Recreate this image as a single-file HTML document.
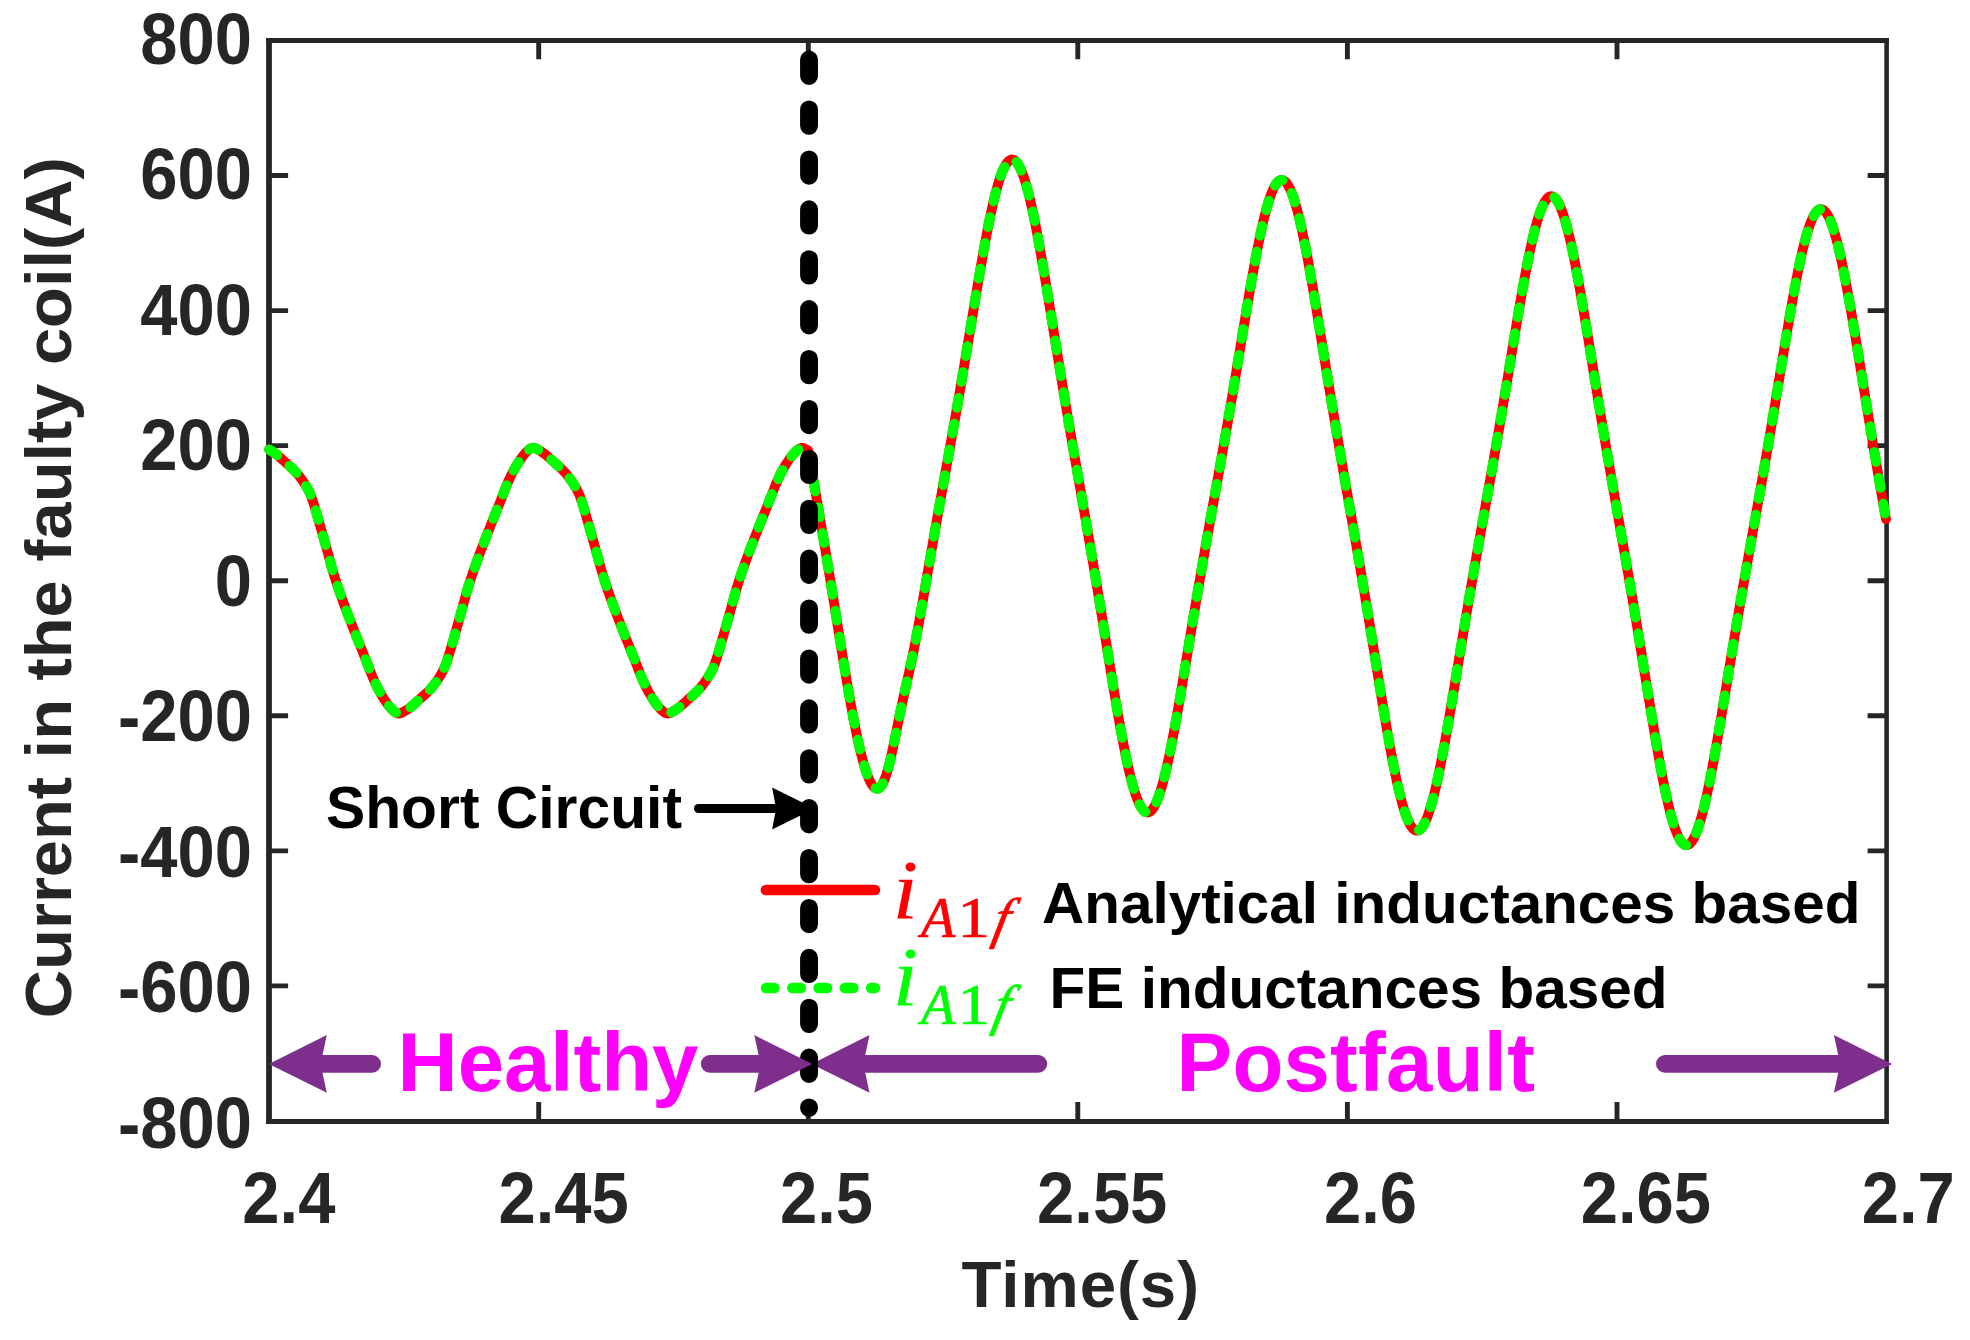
<!DOCTYPE html>
<html><head><meta charset="utf-8"><title>Current in the faulty coil</title>
<style>
html,body{margin:0;padding:0;background:#fff;}
svg{display:block;}
text{font-family:"Liberation Sans", Arial, sans-serif;font-weight:bold;}
.tk{font-size:72px;fill:#262626;}
.lb{font-size:65.5px;fill:#262626;}
.math{font-family:"Liberation Serif", "DejaVu Serif", serif;font-style:italic;font-weight:normal;stroke-width:0.7px;}
</style></head><body>
<svg width="1970" height="1340" viewBox="0 0 1970 1340">
<rect x="0" y="0" width="1970" height="1340" fill="#fff"/>
<path d="M269,37.9 V1123.9" stroke="#262626" stroke-width="5.8" fill="none"/><path d="M1886.6,37.9 V1123.9" stroke="#262626" stroke-width="4.6" fill="none"/><path d="M266.2,40.4 H1888.9" stroke="#262626" stroke-width="5" fill="none"/><path d="M266.2,1121.45 H1888.9" stroke="#262626" stroke-width="4.9" fill="none"/>
<path d="M538.7,1121.0 v-18.9 M538.7,40.4 v18.9 M808.3,1121.0 v-18.9 M808.3,40.4 v18.9 M1077.8,1121.0 v-18.9 M1077.8,40.4 v18.9 M1347.4,1121.0 v-18.9 M1347.4,40.4 v18.9 M1617.0,1121.0 v-18.9 M1617.0,40.4 v18.9 M269.2,175.5 h18.9 M1886.5,175.5 h-18.9 M269.2,310.6 h18.9 M1886.5,310.6 h-18.9 M269.2,445.6 h18.9 M1886.5,445.6 h-18.9 M269.2,580.7 h18.9 M1886.5,580.7 h-18.9 M269.2,715.8 h18.9 M1886.5,715.8 h-18.9 M269.2,850.9 h18.9 M1886.5,850.9 h-18.9 M269.2,985.9 h18.9 M1886.5,985.9 h-18.9" fill="none" stroke="#262626" stroke-width="4.9" stroke-linecap="butt"/>
<polyline id="red" points="269.2,449.6 270.2,450.2 271.2,450.8 272.2,451.4 273.2,452.1 274.2,452.8 275.2,453.5 276.2,454.2 277.2,455.0 278.2,455.8 279.2,456.7 280.2,457.6 281.2,458.5 282.2,459.4 283.2,460.3 284.2,461.2 285.2,462.1 286.2,463.0 287.2,463.9 288.2,464.8 289.2,465.7 290.2,466.6 291.2,467.5 292.2,468.5 293.2,469.4 294.2,470.4 295.2,471.5 296.2,472.5 297.2,473.7 298.2,474.9 299.2,476.1 300.2,477.4 301.2,478.8 302.2,480.2 303.2,481.6 304.2,483.1 305.2,484.7 306.2,486.3 307.2,488.0 308.2,489.8 309.2,491.8 310.2,494.0 311.2,496.5 312.2,499.2 313.2,502.2 314.2,505.3 315.2,508.6 316.2,512.1 317.2,515.5 318.2,519.0 319.2,522.5 320.2,526.0 321.2,529.5 322.2,532.9 323.2,536.4 324.2,539.9 325.2,543.4 326.2,547.0 327.2,550.6 328.2,554.3 329.2,558.0 330.2,561.7 331.2,565.3 332.2,568.8 333.2,572.3 334.2,575.6 335.2,578.7 336.2,581.8 337.2,584.9 338.2,587.8 339.2,590.7 340.2,593.6 341.2,596.4 342.2,599.2 343.2,602.0 344.2,604.7 345.2,607.4 346.2,610.0 347.2,612.7 348.2,615.3 349.2,617.9 350.2,620.5 351.2,623.1 352.2,625.6 353.2,628.2 354.2,630.7 355.2,633.2 356.2,635.8 357.2,638.3 358.2,640.8 359.2,643.3 360.2,645.8 361.2,648.3 362.2,650.7 363.2,653.2 364.2,655.7 365.2,658.2 366.2,660.7 367.2,663.3 368.2,665.8 369.2,668.4 370.2,671.0 371.2,673.5 372.2,676.0 373.2,678.4 374.2,680.7 375.2,682.9 376.2,685.0 377.2,687.1 378.2,689.0 379.2,690.9 380.2,692.7 381.2,694.5 382.2,696.2 383.2,697.8 384.2,699.3 385.2,700.8 386.2,702.3 387.2,703.7 388.2,705.0 389.2,706.2 390.2,707.4 391.2,708.5 392.2,709.5 393.2,710.5 394.2,711.4 395.2,712.2 396.2,712.8 397.2,713.2 398.2,713.5 399.2,713.5 400.2,713.4 401.2,713.0 402.2,712.5 403.2,712.0 404.2,711.4 405.2,710.8 406.2,710.2 407.2,709.6 408.2,708.9 409.2,708.2 410.2,707.5 411.2,706.7 412.2,705.9 413.2,705.1 414.2,704.2 415.2,703.3 416.2,702.4 417.2,701.5 418.2,700.5 419.2,699.6 420.2,698.7 421.2,697.8 422.2,696.9 423.2,696.0 424.2,695.2 425.2,694.2 426.2,693.3 427.2,692.4 428.2,691.4 429.2,690.4 430.2,689.3 431.2,688.2 432.2,687.0 433.2,685.8 434.2,684.5 435.2,683.2 436.2,681.8 437.2,680.4 438.2,678.9 439.2,677.4 440.2,675.8 441.2,674.1 442.2,672.3 443.2,670.4 444.2,668.3 445.2,665.9 446.2,663.3 447.2,660.4 448.2,657.4 449.2,654.1 450.2,650.7 451.2,647.3 452.2,643.8 453.2,640.3 454.2,636.8 455.2,633.3 456.2,629.9 457.2,626.4 458.2,622.9 459.2,619.4 460.2,615.8 461.2,612.2 462.2,608.6 463.2,604.9 464.2,601.2 465.2,597.6 466.2,594.0 467.2,590.5 468.2,587.1 469.2,583.9 470.2,580.8 471.2,577.7 472.2,574.7 473.2,571.8 474.2,568.9 475.2,566.1 476.2,563.3 477.2,560.5 478.2,557.8 479.2,555.1 480.2,552.4 481.2,549.8 482.2,547.1 483.2,544.5 484.2,541.9 485.2,539.4 486.2,536.8 487.2,534.2 488.2,531.7 489.2,529.2 490.2,526.7 491.2,524.1 492.2,521.6 493.2,519.1 494.2,516.6 495.2,514.1 496.2,511.7 497.2,509.2 498.2,506.7 499.2,504.2 500.2,501.7 501.2,499.2 502.2,496.6 503.2,494.0 504.2,491.5 505.2,488.9 506.2,486.4 507.2,484.0 508.2,481.6 509.2,479.4 510.2,477.2 511.2,475.1 512.2,473.1 513.2,471.2 514.2,469.4 515.2,467.6 516.2,465.9 517.2,464.3 518.2,462.7 519.2,461.2 520.2,459.7 521.2,458.3 522.2,456.9 523.2,455.6 524.2,454.4 525.2,453.3 526.2,452.3 527.2,451.3 528.2,450.4 529.2,449.5 530.2,448.8 531.2,448.3 532.2,448.0 533.2,447.9 534.2,448.0 535.2,448.2 536.2,448.7 537.2,449.2 538.2,449.7 539.2,450.3 540.2,450.9 541.2,451.5 542.2,452.2 543.2,452.9 544.2,453.6 545.2,454.4 546.2,455.2 547.2,456.0 548.2,456.9 549.2,457.8 550.2,458.7 551.2,459.6 552.2,460.5 553.2,461.4 554.2,462.3 555.2,463.2 556.2,464.1 557.2,465.0 558.2,465.9 559.2,466.8 560.2,467.7 561.2,468.6 562.2,469.6 563.2,470.6 564.2,471.7 565.2,472.8 566.2,473.9 567.2,475.1 568.2,476.4 569.2,477.7 570.2,479.1 571.2,480.5 572.2,481.9 573.2,483.4 574.2,485.0 575.2,486.6 576.2,488.3 577.2,490.2 578.2,492.2 579.2,494.5 580.2,497.0 581.2,499.8 582.2,502.8 583.2,506.0 584.2,509.3 585.2,512.8 586.2,516.2 587.2,519.7 588.2,523.2 589.2,526.7 590.2,530.2 591.2,533.6 592.2,537.1 593.2,540.6 594.2,544.1 595.2,547.7 596.2,551.4 597.2,555.0 598.2,558.7 599.2,562.4 600.2,566.0 601.2,569.5 602.2,572.9 603.2,576.2 604.2,579.4 605.2,582.5 606.2,585.5 607.2,588.4 608.2,591.3 609.2,594.2 610.2,597.0 611.2,599.8 612.2,602.5 613.2,605.2 614.2,607.9 615.2,610.6 616.2,613.2 617.2,615.8 618.2,618.4 619.2,621.0 620.2,623.6 621.2,626.1 622.2,628.7 623.2,631.2 624.2,633.7 625.2,636.3 626.2,638.8 627.2,641.3 628.2,643.8 629.2,646.3 630.2,648.7 631.2,651.2 632.2,653.7 633.2,656.2 634.2,658.7 635.2,661.2 636.2,663.8 637.2,666.3 638.2,668.9 639.2,671.5 640.2,674.0 641.2,676.4 642.2,678.8 643.2,681.1 644.2,683.3 645.2,685.5 646.2,687.5 647.2,689.4 648.2,691.3 649.2,693.1 650.2,694.8 651.2,696.5 652.2,698.1 653.2,699.6 654.2,701.1 655.2,702.6 656.2,703.9 657.2,705.3 658.2,706.5 659.2,707.6 660.2,708.7 661.2,709.7 662.2,710.7 663.2,711.5 664.2,712.3 665.2,712.9 666.2,713.3 667.2,713.5 668.2,713.5 669.2,713.3 670.2,713.0 671.2,712.4 672.2,711.9 673.2,711.3 674.2,710.7 675.2,710.1 676.2,709.5 677.2,708.8 678.2,708.1 679.2,707.3 680.2,706.6 681.2,705.7 682.2,704.9 683.2,704.0 684.2,703.1 685.2,702.2 686.2,701.3 687.2,700.4 688.2,699.4 689.2,698.5 690.2,697.6 691.2,696.8 692.2,695.9 693.2,695.0 694.2,694.1 695.2,693.1 696.2,692.2 697.2,691.2 698.2,690.2 699.2,689.1 700.2,688.0 701.2,686.8 702.2,685.5 703.2,684.2 704.2,682.9 705.2,681.5 706.2,680.1 707.2,678.6 708.2,677.0 709.2,675.4 710.2,673.8 711.2,672.0 712.2,670.0 713.2,667.9 714.2,665.4 715.2,662.7 716.2,659.8 717.2,656.7 718.2,653.4 719.2,650.0 720.2,646.6 721.2,643.1 722.2,639.6 723.2,636.1 724.2,632.6 725.2,629.2 726.2,625.7 727.2,622.2 728.2,618.7 729.2,615.1 730.2,611.5 731.2,607.8 732.2,604.1 733.2,600.5 734.2,596.8 735.2,593.3 736.2,589.8 737.2,586.5 738.2,583.3 739.2,580.2 740.2,577.1 741.2,574.2 742.2,571.2 743.2,568.4 744.2,565.5 745.2,562.7 746.2,560.0 747.2,557.3 748.2,554.6 749.2,551.9 750.2,549.2 751.2,546.6 752.2,544.0 753.2,541.4 754.2,538.8 755.2,536.3 756.2,533.7 757.2,531.2 758.2,528.7 759.2,526.1 760.2,523.6 761.2,521.1 762.2,518.6 763.2,516.1 764.2,513.6 765.2,511.2 766.2,508.7 767.2,506.2 768.2,503.7 769.2,501.2 770.2,498.6 771.2,496.1 772.2,493.5 773.2,491.0 774.2,488.4 775.2,485.9 776.2,483.5 777.2,481.2 778.2,478.9 779.2,476.8 780.2,474.7 781.2,472.7 782.2,470.8 783.2,469.0 784.2,467.3 785.2,465.6 786.2,463.9 787.2,462.4 788.2,460.9 789.2,459.4 790.2,458.0 791.2,456.7 792.2,455.4 793.2,454.2 794.2,453.1 795.2,452.1 796.2,451.1 797.2,450.2 798.2,449.4 799.2,448.7 800.2,448.2 801.2,448.0 802.2,447.9 803.2,448.0 804.2,448.3 805.2,448.8 806.2,449.3 807.2,449.8 808.2,450.4 809.2,456.0 810.2,461.7 811.2,467.4 812.2,473.2 813.2,478.9 814.2,484.6 815.2,490.4 816.2,496.2 817.2,501.9 818.2,507.7 819.2,513.6 820.2,519.4 821.2,525.3 822.2,531.2 823.2,537.1 824.2,543.1 825.2,549.0 826.2,555.1 827.2,561.1 828.2,567.2 829.2,573.2 830.2,579.4 831.2,585.5 832.2,591.7 833.2,597.8 834.2,604.0 835.2,610.2 836.2,616.4 837.2,622.7 838.2,628.9 839.2,635.1 840.2,641.2 841.2,647.4 842.2,653.5 843.2,659.6 844.2,665.7 845.2,671.7 846.2,677.7 847.2,683.5 848.2,689.4 849.2,695.1 850.2,700.7 851.2,706.3 852.2,711.7 853.2,717.0 854.2,722.2 855.2,727.3 856.2,732.2 857.2,737.0 858.2,741.6 859.2,746.1 860.2,750.3 861.2,754.4 862.2,758.3 863.2,762.0 864.2,765.5 865.2,768.8 866.2,771.8 867.2,774.6 868.2,777.2 869.2,779.6 870.2,781.7 871.2,783.5 872.2,785.1 873.2,786.4 874.2,787.4 875.2,788.1 876.2,788.5 877.2,788.7 878.2,788.5 879.2,788.0 880.2,787.2 881.2,786.0 882.2,784.5 883.2,782.6 884.2,780.4 885.2,777.9 886.2,775.0 887.2,771.8 888.2,768.3 889.2,764.5 890.2,760.4 891.2,756.0 892.2,751.5 893.2,746.8 894.2,742.0 895.2,737.1 896.2,732.2 897.2,727.3 898.2,722.3 899.2,717.4 900.2,712.6 901.2,707.9 902.2,703.2 903.2,698.6 904.2,694.1 905.2,689.6 906.2,685.1 907.2,680.7 908.2,676.2 909.2,671.7 910.2,667.1 911.2,662.5 912.2,657.7 913.2,652.9 914.2,647.9 915.2,642.8 916.2,637.6 917.2,632.3 918.2,626.9 919.2,621.4 920.2,615.8 921.2,610.1 922.2,604.4 923.2,598.7 924.2,592.9 925.2,587.1 926.2,581.3 927.2,575.4 928.2,569.6 929.2,563.8 930.2,558.1 931.2,552.3 932.2,546.6 933.2,540.8 934.2,535.1 935.2,529.5 936.2,523.8 937.2,518.2 938.2,512.6 939.2,507.0 940.2,501.4 941.2,495.9 942.2,490.3 943.2,484.8 944.2,479.2 945.2,473.7 946.2,468.2 947.2,462.6 948.2,457.1 949.2,451.5 950.2,446.0 951.2,440.4 952.2,434.8 953.2,429.2 954.2,423.5 955.2,417.9 956.2,412.2 957.2,406.5 958.2,400.7 959.2,394.9 960.2,389.1 961.2,383.3 962.2,377.5 963.2,371.6 964.2,365.7 965.2,359.7 966.2,353.8 967.2,347.8 968.2,341.8 969.2,335.8 970.2,329.8 971.2,323.8 972.2,317.7 973.2,311.7 974.2,305.7 975.2,299.7 976.2,293.7 977.2,287.8 978.2,281.9 979.2,276.0 980.2,270.2 981.2,264.5 982.2,258.8 983.2,253.2 984.2,247.6 985.2,242.2 986.2,236.8 987.2,231.6 988.2,226.5 989.2,221.5 990.2,216.7 991.2,212.0 992.2,207.4 993.2,203.0 994.2,198.8 995.2,194.7 996.2,190.9 997.2,187.2 998.2,183.7 999.2,180.5 1000.2,177.4 1001.2,174.6 1002.2,172.0 1003.2,169.6 1004.2,167.5 1005.2,165.6 1006.2,164.0 1007.2,162.6 1008.2,161.5 1009.2,160.6 1010.2,160.0 1011.2,159.6 1012.2,159.5 1013.2,159.7 1014.2,160.1 1015.2,160.8 1016.2,161.7 1017.2,162.9 1018.2,164.4 1019.2,166.1 1020.2,168.1 1021.2,170.3 1022.2,172.7 1023.2,175.4 1024.2,178.3 1025.2,181.4 1026.2,184.7 1027.2,188.3 1028.2,192.1 1029.2,196.0 1030.2,200.2 1031.2,204.5 1032.2,209.0 1033.2,213.6 1034.2,218.5 1035.2,223.4 1036.2,228.5 1037.2,233.8 1038.2,239.1 1039.2,244.6 1040.2,250.2 1041.2,255.8 1042.2,261.6 1043.2,267.4 1044.2,273.3 1045.2,279.3 1046.2,285.3 1047.2,291.3 1048.2,297.4 1049.2,303.6 1050.2,309.7 1051.2,315.9 1052.2,322.1 1053.2,328.3 1054.2,334.5 1055.2,340.6 1056.2,346.8 1057.2,353.0 1058.2,359.1 1059.2,365.3 1060.2,371.4 1061.2,377.5 1062.2,383.6 1063.2,389.6 1064.2,395.6 1065.2,401.6 1066.2,407.5 1067.2,413.5 1068.2,419.4 1069.2,425.2 1070.2,431.1 1071.2,436.9 1072.2,442.7 1073.2,448.5 1074.2,454.2 1075.2,460.0 1076.2,465.7 1077.2,471.4 1078.2,477.1 1079.2,482.8 1080.2,488.5 1081.2,494.2 1082.2,499.9 1083.2,505.7 1084.2,511.4 1085.2,517.1 1086.2,522.9 1087.2,528.6 1088.2,534.4 1089.2,540.2 1090.2,546.1 1091.2,551.9 1092.2,557.8 1093.2,563.8 1094.2,569.7 1095.2,575.7 1096.2,581.7 1097.2,587.7 1098.2,593.8 1099.2,599.9 1100.2,606.0 1101.2,612.1 1102.2,618.2 1103.2,624.4 1104.2,630.6 1105.2,636.8 1106.2,642.9 1107.2,649.1 1108.2,655.3 1109.2,661.5 1110.2,667.6 1111.2,673.8 1112.2,679.9 1113.2,685.9 1114.2,692.0 1115.2,697.9 1116.2,703.8 1117.2,709.7 1118.2,715.4 1119.2,721.1 1120.2,726.7 1121.2,732.2 1122.2,737.5 1123.2,742.8 1124.2,747.9 1125.2,752.9 1126.2,757.7 1127.2,762.4 1128.2,766.9 1129.2,771.3 1130.2,775.4 1131.2,779.4 1132.2,783.2 1133.2,786.8 1134.2,790.2 1135.2,793.3 1136.2,796.3 1137.2,799.0 1138.2,801.4 1139.2,803.7 1140.2,805.7 1141.2,807.4 1142.2,808.9 1143.2,810.1 1144.2,811.1 1145.2,811.8 1146.2,812.3 1147.2,812.5 1148.2,812.4 1149.2,812.1 1150.2,811.5 1151.2,810.7 1152.2,809.6 1153.2,808.2 1154.2,806.6 1155.2,804.8 1156.2,802.7 1157.2,800.4 1158.2,797.8 1159.2,795.0 1160.2,792.0 1161.2,788.7 1162.2,785.3 1163.2,781.7 1164.2,777.8 1165.2,773.8 1166.2,769.6 1167.2,765.2 1168.2,760.7 1169.2,756.0 1170.2,751.1 1171.2,746.2 1172.2,741.0 1173.2,735.8 1174.2,730.5 1175.2,725.1 1176.2,719.5 1177.2,713.9 1178.2,708.2 1179.2,702.5 1180.2,696.6 1181.2,690.8 1182.2,684.9 1183.2,678.9 1184.2,672.9 1185.2,666.9 1186.2,660.9 1187.2,654.9 1188.2,648.8 1189.2,642.8 1190.2,636.8 1191.2,630.8 1192.2,624.7 1193.2,618.7 1194.2,612.8 1195.2,606.8 1196.2,600.9 1197.2,595.0 1198.2,589.1 1199.2,583.2 1200.2,577.4 1201.2,571.6 1202.2,565.9 1203.2,560.1 1204.2,554.4 1205.2,548.7 1206.2,543.1 1207.2,537.4 1208.2,531.8 1209.2,526.2 1210.2,520.6 1211.2,515.1 1212.2,509.5 1213.2,503.9 1214.2,498.4 1215.2,492.8 1216.2,487.3 1217.2,481.7 1218.2,476.2 1219.2,470.6 1220.2,465.0 1221.2,459.4 1222.2,453.8 1223.2,448.1 1224.2,442.4 1225.2,436.7 1226.2,431.0 1227.2,425.3 1228.2,419.5 1229.2,413.7 1230.2,407.9 1231.2,402.0 1232.2,396.1 1233.2,390.2 1234.2,384.3 1235.2,378.3 1236.2,372.3 1237.2,366.3 1238.2,360.3 1239.2,354.3 1240.2,348.2 1241.2,342.2 1242.2,336.2 1243.2,330.1 1244.2,324.1 1245.2,318.1 1246.2,312.1 1247.2,306.2 1248.2,300.3 1249.2,294.4 1250.2,288.6 1251.2,282.9 1252.2,277.2 1253.2,271.6 1254.2,266.1 1255.2,260.7 1256.2,255.4 1257.2,250.2 1258.2,245.1 1259.2,240.1 1260.2,235.3 1261.2,230.7 1262.2,226.2 1263.2,221.8 1264.2,217.7 1265.2,213.7 1266.2,209.9 1267.2,206.3 1268.2,202.9 1269.2,199.7 1270.2,196.8 1271.2,194.0 1272.2,191.5 1273.2,189.2 1274.2,187.2 1275.2,185.4 1276.2,183.9 1277.2,182.6 1278.2,181.6 1279.2,180.8 1280.2,180.3 1281.2,180.0 1282.2,180.0 1283.2,180.3 1284.2,180.8 1285.2,181.6 1286.2,182.6 1287.2,183.9 1288.2,185.5 1289.2,187.3 1290.2,189.3 1291.2,191.6 1292.2,194.1 1293.2,196.9 1294.2,199.9 1295.2,203.1 1296.2,206.5 1297.2,210.1 1298.2,214.0 1299.2,218.0 1300.2,222.2 1301.2,226.6 1302.2,231.1 1303.2,235.9 1304.2,240.7 1305.2,245.7 1306.2,250.9 1307.2,256.2 1308.2,261.5 1309.2,267.0 1310.2,272.6 1311.2,278.3 1312.2,284.1 1313.2,289.9 1314.2,295.9 1315.2,301.8 1316.2,307.8 1317.2,313.9 1318.2,320.0 1319.2,326.1 1320.2,332.3 1321.2,338.4 1322.2,344.6 1323.2,350.8 1324.2,357.0 1325.2,363.1 1326.2,369.3 1327.2,375.4 1328.2,381.6 1329.2,387.7 1330.2,393.8 1331.2,399.8 1332.2,405.9 1333.2,411.9 1334.2,417.8 1335.2,423.8 1336.2,429.7 1337.2,435.6 1338.2,441.5 1339.2,447.3 1340.2,453.1 1341.2,458.9 1342.2,464.7 1343.2,470.5 1344.2,476.2 1345.2,481.9 1346.2,487.6 1347.2,493.3 1348.2,499.0 1349.2,504.7 1350.2,510.4 1351.2,516.1 1352.2,521.8 1353.2,527.5 1354.2,533.2 1355.2,538.9 1356.2,544.7 1357.2,550.4 1358.2,556.2 1359.2,562.0 1360.2,567.8 1361.2,573.7 1362.2,579.6 1363.2,585.5 1364.2,591.4 1365.2,597.4 1366.2,603.4 1367.2,609.4 1368.2,615.5 1369.2,621.6 1370.2,627.7 1371.2,633.8 1372.2,639.9 1373.2,646.1 1374.2,652.3 1375.2,658.4 1376.2,664.6 1377.2,670.8 1378.2,676.9 1379.2,683.1 1380.2,689.2 1381.2,695.3 1382.2,701.4 1383.2,707.4 1384.2,713.4 1385.2,719.3 1386.2,725.2 1387.2,731.0 1388.2,736.7 1389.2,742.3 1390.2,747.8 1391.2,753.2 1392.2,758.5 1393.2,763.7 1394.2,768.7 1395.2,773.6 1396.2,778.4 1397.2,783.0 1398.2,787.4 1399.2,791.7 1400.2,795.7 1401.2,799.6 1402.2,803.3 1403.2,806.8 1404.2,810.0 1405.2,813.1 1406.2,815.9 1407.2,818.5 1408.2,820.8 1409.2,822.9 1410.2,824.8 1411.2,826.4 1412.2,827.8 1413.2,828.9 1414.2,829.7 1415.2,830.3 1416.2,830.6 1417.2,830.7 1418.2,830.5 1419.2,830.1 1420.2,829.4 1421.2,828.4 1422.2,827.2 1423.2,825.7 1424.2,823.9 1425.2,822.0 1426.2,819.7 1427.2,817.3 1428.2,814.6 1429.2,811.7 1430.2,808.6 1431.2,805.2 1432.2,801.7 1433.2,797.9 1434.2,794.0 1435.2,789.9 1436.2,785.6 1437.2,781.1 1438.2,776.5 1439.2,771.7 1440.2,766.8 1441.2,761.7 1442.2,756.5 1443.2,751.3 1444.2,745.9 1445.2,740.4 1446.2,734.8 1447.2,729.1 1448.2,723.4 1449.2,717.6 1450.2,711.7 1451.2,705.8 1452.2,699.9 1453.2,693.9 1454.2,687.9 1455.2,681.9 1456.2,675.8 1457.2,669.8 1458.2,663.7 1459.2,657.7 1460.2,651.6 1461.2,645.6 1462.2,639.6 1463.2,633.6 1464.2,627.6 1465.2,621.6 1466.2,615.7 1467.2,609.8 1468.2,603.9 1469.2,598.1 1470.2,592.2 1471.2,586.4 1472.2,580.7 1473.2,574.9 1474.2,569.2 1475.2,563.5 1476.2,557.9 1477.2,552.2 1478.2,546.6 1479.2,541.0 1480.2,535.4 1481.2,529.8 1482.2,524.2 1483.2,518.7 1484.2,513.1 1485.2,507.5 1486.2,502.0 1487.2,496.4 1488.2,490.8 1489.2,485.2 1490.2,479.6 1491.2,474.0 1492.2,468.3 1493.2,462.6 1494.2,456.9 1495.2,451.2 1496.2,445.5 1497.2,439.7 1498.2,433.9 1499.2,428.1 1500.2,422.2 1501.2,416.3 1502.2,410.4 1503.2,404.5 1504.2,398.5 1505.2,392.5 1506.2,386.5 1507.2,380.5 1508.2,374.5 1509.2,368.4 1510.2,362.4 1511.2,356.3 1512.2,350.2 1513.2,344.2 1514.2,338.2 1515.2,332.2 1516.2,326.2 1517.2,320.3 1518.2,314.4 1519.2,308.5 1520.2,302.7 1521.2,297.0 1522.2,291.3 1523.2,285.8 1524.2,280.3 1525.2,274.9 1526.2,269.6 1527.2,264.5 1528.2,259.4 1529.2,254.5 1530.2,249.8 1531.2,245.2 1532.2,240.7 1533.2,236.5 1534.2,232.4 1535.2,228.5 1536.2,224.7 1537.2,221.2 1538.2,217.9 1539.2,214.8 1540.2,211.9 1541.2,209.3 1542.2,206.9 1543.2,204.7 1544.2,202.7 1545.2,201.0 1546.2,199.6 1547.2,198.4 1548.2,197.5 1549.2,196.8 1550.2,196.4 1551.2,196.2 1552.2,196.3 1553.2,196.7 1554.2,197.3 1555.2,198.2 1556.2,199.4 1557.2,200.8 1558.2,202.4 1559.2,204.3 1560.2,206.5 1561.2,208.8 1562.2,211.5 1563.2,214.3 1564.2,217.4 1565.2,220.7 1566.2,224.2 1567.2,227.9 1568.2,231.8 1569.2,235.9 1570.2,240.2 1571.2,244.6 1572.2,249.2 1573.2,254.0 1574.2,258.9 1575.2,264.0 1576.2,269.2 1577.2,274.5 1578.2,279.9 1579.2,285.4 1580.2,291.1 1581.2,296.8 1582.2,302.6 1583.2,308.4 1584.2,314.4 1585.2,320.3 1586.2,326.4 1587.2,332.4 1588.2,338.5 1589.2,344.6 1590.2,350.8 1591.2,356.9 1592.2,363.1 1593.2,369.3 1594.2,375.4 1595.2,381.6 1596.2,387.7 1597.2,393.8 1598.2,399.9 1599.2,406.0 1600.2,412.1 1601.2,418.1 1602.2,424.1 1603.2,430.1 1604.2,436.1 1605.2,442.0 1606.2,447.9 1607.2,453.8 1608.2,459.6 1609.2,465.4 1610.2,471.2 1611.2,477.0 1612.2,482.7 1613.2,488.5 1614.2,494.2 1615.2,499.9 1616.2,505.6 1617.2,511.3 1618.2,516.9 1619.2,522.6 1620.2,528.3 1621.2,534.0 1622.2,539.6 1623.2,545.3 1624.2,551.0 1625.2,556.8 1626.2,562.5 1627.2,568.3 1628.2,574.0 1629.2,579.9 1630.2,585.7 1631.2,591.5 1632.2,597.4 1633.2,603.3 1634.2,609.3 1635.2,615.3 1636.2,621.3 1637.2,627.3 1638.2,633.3 1639.2,639.4 1640.2,645.5 1641.2,651.6 1642.2,657.8 1643.2,663.9 1644.2,670.1 1645.2,676.2 1646.2,682.4 1647.2,688.5 1648.2,694.7 1649.2,700.8 1650.2,706.9 1651.2,713.0 1652.2,719.0 1653.2,725.0 1654.2,731.0 1655.2,736.8 1656.2,742.7 1657.2,748.4 1658.2,754.1 1659.2,759.6 1660.2,765.1 1661.2,770.4 1662.2,775.7 1663.2,780.8 1664.2,785.7 1665.2,790.6 1666.2,795.2 1667.2,799.7 1668.2,804.1 1669.2,808.2 1670.2,812.2 1671.2,816.0 1672.2,819.6 1673.2,822.9 1674.2,826.1 1675.2,829.0 1676.2,831.7 1677.2,834.2 1678.2,836.4 1679.2,838.4 1680.2,840.1 1681.2,841.6 1682.2,842.9 1683.2,843.8 1684.2,844.6 1685.2,845.0 1686.2,845.2 1687.2,845.2 1688.2,844.8 1689.2,844.2 1690.2,843.4 1691.2,842.3 1692.2,841.0 1693.2,839.3 1694.2,837.5 1695.2,835.4 1696.2,833.1 1697.2,830.5 1698.2,827.7 1699.2,824.7 1700.2,821.4 1701.2,818.0 1702.2,814.3 1703.2,810.5 1704.2,806.4 1705.2,802.2 1706.2,797.8 1707.2,793.3 1708.2,788.6 1709.2,783.7 1710.2,778.7 1711.2,773.6 1712.2,768.4 1713.2,763.0 1714.2,757.6 1715.2,752.0 1716.2,746.4 1717.2,740.7 1718.2,734.9 1719.2,729.1 1720.2,723.2 1721.2,717.2 1722.2,711.3 1723.2,705.3 1724.2,699.2 1725.2,693.2 1726.2,687.1 1727.2,681.1 1728.2,675.0 1729.2,668.9 1730.2,662.9 1731.2,656.9 1732.2,650.8 1733.2,644.8 1734.2,638.8 1735.2,632.9 1736.2,626.9 1737.2,621.0 1738.2,615.2 1739.2,609.3 1740.2,603.5 1741.2,597.7 1742.2,591.9 1743.2,586.2 1744.2,580.5 1745.2,574.8 1746.2,569.1 1747.2,563.5 1748.2,557.8 1749.2,552.2 1750.2,546.6 1751.2,541.0 1752.2,535.4 1753.2,529.9 1754.2,524.3 1755.2,518.7 1756.2,513.1 1757.2,507.5 1758.2,501.9 1759.2,496.3 1760.2,490.7 1761.2,485.0 1762.2,479.4 1763.2,473.7 1764.2,468.0 1765.2,462.2 1766.2,456.4 1767.2,450.6 1768.2,444.8 1769.2,439.0 1770.2,433.1 1771.2,427.2 1772.2,421.2 1773.2,415.3 1774.2,409.3 1775.2,403.3 1776.2,397.3 1777.2,391.2 1778.2,385.2 1779.2,379.1 1780.2,373.0 1781.2,367.0 1782.2,360.9 1783.2,354.9 1784.2,348.8 1785.2,342.8 1786.2,336.8 1787.2,330.9 1788.2,325.0 1789.2,319.2 1790.2,313.4 1791.2,307.7 1792.2,302.1 1793.2,296.5 1794.2,291.1 1795.2,285.7 1796.2,280.5 1797.2,275.4 1798.2,270.4 1799.2,265.6 1800.2,260.9 1801.2,256.3 1802.2,251.9 1803.2,247.7 1804.2,243.7 1805.2,239.9 1806.2,236.2 1807.2,232.8 1808.2,229.6 1809.2,226.6 1810.2,223.8 1811.2,221.2 1812.2,218.9 1813.2,216.8 1814.2,215.0 1815.2,213.4 1816.2,212.0 1817.2,210.9 1818.2,210.1 1819.2,209.5 1820.2,209.2 1821.2,209.2 1822.2,209.4 1823.2,209.9 1824.2,210.6 1825.2,211.6 1826.2,212.8 1827.2,214.3 1828.2,216.1 1829.2,218.1 1830.2,220.3 1831.2,222.8 1832.2,225.5 1833.2,228.5 1834.2,231.6 1835.2,235.0 1836.2,238.6 1837.2,242.4 1838.2,246.4 1839.2,250.5 1840.2,254.9 1841.2,259.4 1842.2,264.1 1843.2,268.9 1844.2,273.9 1845.2,279.0 1846.2,284.2 1847.2,289.6 1848.2,295.0 1849.2,300.6 1850.2,306.2 1851.2,312.0 1852.2,317.8 1853.2,323.7 1854.2,329.6 1855.2,335.6 1856.2,341.6 1857.2,347.7 1858.2,353.8 1859.2,359.9 1860.2,366.1 1861.2,372.2 1862.2,378.4 1863.2,384.5 1864.2,390.7 1865.2,396.8 1866.2,402.9 1867.2,409.0 1868.2,415.1 1869.2,421.2 1870.2,427.2 1871.2,433.2 1872.2,439.2 1873.2,445.2 1874.2,451.1 1875.2,457.0 1876.2,462.9 1877.2,468.7 1878.2,474.6 1879.2,480.4 1880.2,486.1 1881.2,491.9 1882.2,497.6 1883.2,503.3 1884.2,509.0 1885.2,514.7 1886.0,519.2" fill="none" stroke="#ff0000" stroke-width="9.8" stroke-linejoin="round" stroke-linecap="round"/>
<polyline id="grn" points="269.2,449.6 270.2,450.2 271.2,450.8 272.2,451.4 273.2,452.1 274.2,452.8 275.2,453.5 276.2,454.2 277.2,455.0 278.2,455.8 279.2,456.7 280.2,457.6 281.2,458.5 282.2,459.4 283.2,460.3 284.2,461.2 285.2,462.1 286.2,463.0 287.2,463.9 288.2,464.8 289.2,465.7 290.2,466.6 291.2,467.5 292.2,468.5 293.2,469.4 294.2,470.4 295.2,471.5 296.2,472.5 297.2,473.7 298.2,474.9 299.2,476.1 300.2,477.4 301.2,478.8 302.2,480.2 303.2,481.6 304.2,483.1 305.2,484.7 306.2,486.3 307.2,488.0 308.2,489.8 309.2,491.8 310.2,494.0 311.2,496.5 312.2,499.2 313.2,502.2 314.2,505.3 315.2,508.6 316.2,512.1 317.2,515.5 318.2,519.0 319.2,522.5 320.2,526.0 321.2,529.5 322.2,532.9 323.2,536.4 324.2,539.9 325.2,543.4 326.2,547.0 327.2,550.6 328.2,554.3 329.2,558.0 330.2,561.7 331.2,565.3 332.2,568.8 333.2,572.3 334.2,575.6 335.2,578.7 336.2,581.8 337.2,584.9 338.2,587.8 339.2,590.7 340.2,593.6 341.2,596.4 342.2,599.2 343.2,602.0 344.2,604.7 345.2,607.4 346.2,610.0 347.2,612.7 348.2,615.3 349.2,617.9 350.2,620.5 351.2,623.1 352.2,625.6 353.2,628.2 354.2,630.7 355.2,633.2 356.2,635.8 357.2,638.3 358.2,640.8 359.2,643.3 360.2,645.8 361.2,648.3 362.2,650.7 363.2,653.2 364.2,655.7 365.2,658.2 366.2,660.7 367.2,663.3 368.2,665.8 369.2,668.4 370.2,671.0 371.2,673.5 372.2,676.0 373.2,678.4 374.2,680.7 375.2,682.9 376.2,685.0 377.2,687.1 378.2,689.0 379.2,690.9 380.2,692.7 381.2,694.5 382.2,696.2 383.2,697.8 384.2,699.3 385.2,700.8 386.2,702.3 387.2,703.7 388.2,705.0 389.2,706.2 390.2,707.4 391.2,708.5 392.2,709.5 393.2,710.5 394.2,711.4 395.2,712.2 396.2,712.8 397.2,713.2 398.2,713.5 399.2,713.5 400.2,713.4 401.2,713.0 402.2,712.5 403.2,712.0 404.2,711.4 405.2,710.8 406.2,710.2 407.2,709.6 408.2,708.9 409.2,708.2 410.2,707.5 411.2,706.7 412.2,705.9 413.2,705.1 414.2,704.2 415.2,703.3 416.2,702.4 417.2,701.5 418.2,700.5 419.2,699.6 420.2,698.7 421.2,697.8 422.2,696.9 423.2,696.0 424.2,695.2 425.2,694.2 426.2,693.3 427.2,692.4 428.2,691.4 429.2,690.4 430.2,689.3 431.2,688.2 432.2,687.0 433.2,685.8 434.2,684.5 435.2,683.2 436.2,681.8 437.2,680.4 438.2,678.9 439.2,677.4 440.2,675.8 441.2,674.1 442.2,672.3 443.2,670.4 444.2,668.3 445.2,665.9 446.2,663.3 447.2,660.4 448.2,657.4 449.2,654.1 450.2,650.7 451.2,647.3 452.2,643.8 453.2,640.3 454.2,636.8 455.2,633.3 456.2,629.9 457.2,626.4 458.2,622.9 459.2,619.4 460.2,615.8 461.2,612.2 462.2,608.6 463.2,604.9 464.2,601.2 465.2,597.6 466.2,594.0 467.2,590.5 468.2,587.1 469.2,583.9 470.2,580.8 471.2,577.7 472.2,574.7 473.2,571.8 474.2,568.9 475.2,566.1 476.2,563.3 477.2,560.5 478.2,557.8 479.2,555.1 480.2,552.4 481.2,549.8 482.2,547.1 483.2,544.5 484.2,541.9 485.2,539.4 486.2,536.8 487.2,534.2 488.2,531.7 489.2,529.2 490.2,526.7 491.2,524.1 492.2,521.6 493.2,519.1 494.2,516.6 495.2,514.1 496.2,511.7 497.2,509.2 498.2,506.7 499.2,504.2 500.2,501.7 501.2,499.2 502.2,496.6 503.2,494.0 504.2,491.5 505.2,488.9 506.2,486.4 507.2,484.0 508.2,481.6 509.2,479.4 510.2,477.2 511.2,475.1 512.2,473.1 513.2,471.2 514.2,469.4 515.2,467.6 516.2,465.9 517.2,464.3 518.2,462.7 519.2,461.2 520.2,459.7 521.2,458.3 522.2,456.9 523.2,455.6 524.2,454.4 525.2,453.3 526.2,452.3 527.2,451.3 528.2,450.4 529.2,449.5 530.2,448.8 531.2,448.3 532.2,448.0 533.2,447.9 534.2,448.0 535.2,448.2 536.2,448.7 537.2,449.2 538.2,449.7 539.2,450.3 540.2,450.9 541.2,451.5 542.2,452.2 543.2,452.9 544.2,453.6 545.2,454.4 546.2,455.2 547.2,456.0 548.2,456.9 549.2,457.8 550.2,458.7 551.2,459.6 552.2,460.5 553.2,461.4 554.2,462.3 555.2,463.2 556.2,464.1 557.2,465.0 558.2,465.9 559.2,466.8 560.2,467.7 561.2,468.6 562.2,469.6 563.2,470.6 564.2,471.7 565.2,472.8 566.2,473.9 567.2,475.1 568.2,476.4 569.2,477.7 570.2,479.1 571.2,480.5 572.2,481.9 573.2,483.4 574.2,485.0 575.2,486.6 576.2,488.3 577.2,490.2 578.2,492.2 579.2,494.5 580.2,497.0 581.2,499.8 582.2,502.8 583.2,506.0 584.2,509.3 585.2,512.8 586.2,516.2 587.2,519.7 588.2,523.2 589.2,526.7 590.2,530.2 591.2,533.6 592.2,537.1 593.2,540.6 594.2,544.1 595.2,547.7 596.2,551.4 597.2,555.0 598.2,558.7 599.2,562.4 600.2,566.0 601.2,569.5 602.2,572.9 603.2,576.2 604.2,579.4 605.2,582.5 606.2,585.5 607.2,588.4 608.2,591.3 609.2,594.2 610.2,597.0 611.2,599.8 612.2,602.5 613.2,605.2 614.2,607.9 615.2,610.6 616.2,613.2 617.2,615.8 618.2,618.4 619.2,621.0 620.2,623.6 621.2,626.1 622.2,628.7 623.2,631.2 624.2,633.7 625.2,636.3 626.2,638.8 627.2,641.3 628.2,643.8 629.2,646.3 630.2,648.7 631.2,651.2 632.2,653.7 633.2,656.2 634.2,658.7 635.2,661.2 636.2,663.8 637.2,666.3 638.2,668.9 639.2,671.5 640.2,674.0 641.2,676.4 642.2,678.8 643.2,681.1 644.2,683.3 645.2,685.5 646.2,687.5 647.2,689.4 648.2,691.3 649.2,693.1 650.2,694.8 651.2,696.5 652.2,698.1 653.2,699.6 654.2,701.1 655.2,702.6 656.2,703.9 657.2,705.3 658.2,706.5 659.2,707.6 660.2,708.7 661.2,709.7 662.2,710.7 663.2,711.5 664.2,712.3 665.2,712.9 666.2,713.3 667.2,713.5 668.2,713.5 669.2,713.3 670.2,713.0 671.2,712.4 672.2,711.9 673.2,711.3 674.2,710.7 675.2,710.1 676.2,709.5 677.2,708.8 678.2,708.1 679.2,707.3 680.2,706.6 681.2,705.7 682.2,704.9 683.2,704.0 684.2,703.1 685.2,702.2 686.2,701.3 687.2,700.4 688.2,699.4 689.2,698.5 690.2,697.6 691.2,696.8 692.2,695.9 693.2,695.0 694.2,694.1 695.2,693.1 696.2,692.2 697.2,691.2 698.2,690.2 699.2,689.1 700.2,688.0 701.2,686.8 702.2,685.5 703.2,684.2 704.2,682.9 705.2,681.5 706.2,680.1 707.2,678.6 708.2,677.0 709.2,675.4 710.2,673.8 711.2,672.0 712.2,670.0 713.2,667.9 714.2,665.4 715.2,662.7 716.2,659.8 717.2,656.7 718.2,653.4 719.2,650.0 720.2,646.6 721.2,643.1 722.2,639.6 723.2,636.1 724.2,632.6 725.2,629.2 726.2,625.7 727.2,622.2 728.2,618.7 729.2,615.1 730.2,611.5 731.2,607.8 732.2,604.1 733.2,600.5 734.2,596.8 735.2,593.3 736.2,589.8 737.2,586.5 738.2,583.3 739.2,580.2 740.2,577.1 741.2,574.2 742.2,571.2 743.2,568.4 744.2,565.5 745.2,562.7 746.2,560.0 747.2,557.3 748.2,554.6 749.2,551.9 750.2,549.2 751.2,546.6 752.2,544.0 753.2,541.4 754.2,538.8 755.2,536.3 756.2,533.7 757.2,531.2 758.2,528.7 759.2,526.1 760.2,523.6 761.2,521.1 762.2,518.6 763.2,516.1 764.2,513.6 765.2,511.2 766.2,508.7 767.2,506.2 768.2,503.7 769.2,501.2 770.2,498.6 771.2,496.1 772.2,493.5 773.2,491.0 774.2,488.4 775.2,485.9 776.2,483.5 777.2,481.2 778.2,478.9 779.2,476.8 780.2,474.7 781.2,472.7 782.2,470.8 783.2,469.0 784.2,467.3 785.2,465.6 786.2,463.9 787.2,462.4 788.2,460.9 789.2,459.4 790.2,458.0 791.2,456.7 792.2,455.4 793.2,454.2 794.2,453.1 795.2,452.1 796.2,451.1 797.2,450.2 798.2,449.4 799.2,448.7 800.2,448.2 801.2,448.0 802.2,447.9 803.2,448.0 804.2,448.3 805.2,448.8 806.2,449.3 807.2,449.8 808.2,450.4 809.2,456.0 810.2,461.7 811.2,467.4 812.2,473.2 813.2,478.9 814.2,484.6 815.2,490.4 816.2,496.2 817.2,501.9 818.2,507.7 819.2,513.6 820.2,519.4 821.2,525.3 822.2,531.2 823.2,537.1 824.2,543.1 825.2,549.0 826.2,555.1 827.2,561.1 828.2,567.2 829.2,573.2 830.2,579.4 831.2,585.5 832.2,591.7 833.2,597.8 834.2,604.0 835.2,610.2 836.2,616.4 837.2,622.7 838.2,628.9 839.2,635.1 840.2,641.2 841.2,647.4 842.2,653.5 843.2,659.6 844.2,665.7 845.2,671.7 846.2,677.7 847.2,683.5 848.2,689.4 849.2,695.1 850.2,700.7 851.2,706.3 852.2,711.7 853.2,717.0 854.2,722.2 855.2,727.3 856.2,732.2 857.2,737.0 858.2,741.6 859.2,746.1 860.2,750.3 861.2,754.4 862.2,758.3 863.2,762.0 864.2,765.5 865.2,768.8 866.2,771.8 867.2,774.6 868.2,777.2 869.2,779.6 870.2,781.7 871.2,783.5 872.2,785.1 873.2,786.4 874.2,787.4 875.2,788.1 876.2,788.5 877.2,788.7 878.2,788.5 879.2,788.0 880.2,787.2 881.2,786.0 882.2,784.5 883.2,782.6 884.2,780.4 885.2,777.9 886.2,775.0 887.2,771.8 888.2,768.3 889.2,764.5 890.2,760.4 891.2,756.0 892.2,751.5 893.2,746.8 894.2,742.0 895.2,737.1 896.2,732.2 897.2,727.3 898.2,722.3 899.2,717.4 900.2,712.6 901.2,707.9 902.2,703.2 903.2,698.6 904.2,694.1 905.2,689.6 906.2,685.1 907.2,680.7 908.2,676.2 909.2,671.7 910.2,667.1 911.2,662.5 912.2,657.7 913.2,652.9 914.2,647.9 915.2,642.8 916.2,637.6 917.2,632.3 918.2,626.9 919.2,621.4 920.2,615.8 921.2,610.1 922.2,604.4 923.2,598.7 924.2,592.9 925.2,587.1 926.2,581.3 927.2,575.4 928.2,569.6 929.2,563.8 930.2,558.1 931.2,552.3 932.2,546.6 933.2,540.8 934.2,535.1 935.2,529.5 936.2,523.8 937.2,518.2 938.2,512.6 939.2,507.0 940.2,501.4 941.2,495.9 942.2,490.3 943.2,484.8 944.2,479.2 945.2,473.7 946.2,468.2 947.2,462.6 948.2,457.1 949.2,451.5 950.2,446.0 951.2,440.4 952.2,434.8 953.2,429.2 954.2,423.5 955.2,417.9 956.2,412.2 957.2,406.5 958.2,400.7 959.2,394.9 960.2,389.1 961.2,383.3 962.2,377.5 963.2,371.6 964.2,365.7 965.2,359.7 966.2,353.8 967.2,347.8 968.2,341.8 969.2,335.8 970.2,329.8 971.2,323.8 972.2,317.7 973.2,311.7 974.2,305.7 975.2,299.7 976.2,293.7 977.2,287.8 978.2,281.9 979.2,276.0 980.2,270.2 981.2,264.5 982.2,258.8 983.2,253.2 984.2,247.6 985.2,242.2 986.2,236.8 987.2,231.6 988.2,226.5 989.2,221.5 990.2,216.7 991.2,212.0 992.2,207.4 993.2,203.0 994.2,198.8 995.2,194.7 996.2,190.9 997.2,187.2 998.2,183.7 999.2,180.5 1000.2,177.4 1001.2,174.6 1002.2,172.0 1003.2,169.6 1004.2,167.5 1005.2,165.6 1006.2,164.0 1007.2,162.6 1008.2,161.5 1009.2,160.6 1010.2,160.0 1011.2,159.6 1012.2,159.5 1013.2,159.7 1014.2,160.1 1015.2,160.8 1016.2,161.7 1017.2,162.9 1018.2,164.4 1019.2,166.1 1020.2,168.1 1021.2,170.3 1022.2,172.7 1023.2,175.4 1024.2,178.3 1025.2,181.4 1026.2,184.7 1027.2,188.3 1028.2,192.1 1029.2,196.0 1030.2,200.2 1031.2,204.5 1032.2,209.0 1033.2,213.6 1034.2,218.5 1035.2,223.4 1036.2,228.5 1037.2,233.8 1038.2,239.1 1039.2,244.6 1040.2,250.2 1041.2,255.8 1042.2,261.6 1043.2,267.4 1044.2,273.3 1045.2,279.3 1046.2,285.3 1047.2,291.3 1048.2,297.4 1049.2,303.6 1050.2,309.7 1051.2,315.9 1052.2,322.1 1053.2,328.3 1054.2,334.5 1055.2,340.6 1056.2,346.8 1057.2,353.0 1058.2,359.1 1059.2,365.3 1060.2,371.4 1061.2,377.5 1062.2,383.6 1063.2,389.6 1064.2,395.6 1065.2,401.6 1066.2,407.5 1067.2,413.5 1068.2,419.4 1069.2,425.2 1070.2,431.1 1071.2,436.9 1072.2,442.7 1073.2,448.5 1074.2,454.2 1075.2,460.0 1076.2,465.7 1077.2,471.4 1078.2,477.1 1079.2,482.8 1080.2,488.5 1081.2,494.2 1082.2,499.9 1083.2,505.7 1084.2,511.4 1085.2,517.1 1086.2,522.9 1087.2,528.6 1088.2,534.4 1089.2,540.2 1090.2,546.1 1091.2,551.9 1092.2,557.8 1093.2,563.8 1094.2,569.7 1095.2,575.7 1096.2,581.7 1097.2,587.7 1098.2,593.8 1099.2,599.9 1100.2,606.0 1101.2,612.1 1102.2,618.2 1103.2,624.4 1104.2,630.6 1105.2,636.8 1106.2,642.9 1107.2,649.1 1108.2,655.3 1109.2,661.5 1110.2,667.6 1111.2,673.8 1112.2,679.9 1113.2,685.9 1114.2,692.0 1115.2,697.9 1116.2,703.8 1117.2,709.7 1118.2,715.4 1119.2,721.1 1120.2,726.7 1121.2,732.2 1122.2,737.5 1123.2,742.8 1124.2,747.9 1125.2,752.9 1126.2,757.7 1127.2,762.4 1128.2,766.9 1129.2,771.3 1130.2,775.4 1131.2,779.4 1132.2,783.2 1133.2,786.8 1134.2,790.2 1135.2,793.3 1136.2,796.3 1137.2,799.0 1138.2,801.4 1139.2,803.7 1140.2,805.7 1141.2,807.4 1142.2,808.9 1143.2,810.1 1144.2,811.1 1145.2,811.8 1146.2,812.3 1147.2,812.5 1148.2,812.4 1149.2,812.1 1150.2,811.5 1151.2,810.7 1152.2,809.6 1153.2,808.2 1154.2,806.6 1155.2,804.8 1156.2,802.7 1157.2,800.4 1158.2,797.8 1159.2,795.0 1160.2,792.0 1161.2,788.7 1162.2,785.3 1163.2,781.7 1164.2,777.8 1165.2,773.8 1166.2,769.6 1167.2,765.2 1168.2,760.7 1169.2,756.0 1170.2,751.1 1171.2,746.2 1172.2,741.0 1173.2,735.8 1174.2,730.5 1175.2,725.1 1176.2,719.5 1177.2,713.9 1178.2,708.2 1179.2,702.5 1180.2,696.6 1181.2,690.8 1182.2,684.9 1183.2,678.9 1184.2,672.9 1185.2,666.9 1186.2,660.9 1187.2,654.9 1188.2,648.8 1189.2,642.8 1190.2,636.8 1191.2,630.8 1192.2,624.7 1193.2,618.7 1194.2,612.8 1195.2,606.8 1196.2,600.9 1197.2,595.0 1198.2,589.1 1199.2,583.2 1200.2,577.4 1201.2,571.6 1202.2,565.9 1203.2,560.1 1204.2,554.4 1205.2,548.7 1206.2,543.1 1207.2,537.4 1208.2,531.8 1209.2,526.2 1210.2,520.6 1211.2,515.1 1212.2,509.5 1213.2,503.9 1214.2,498.4 1215.2,492.8 1216.2,487.3 1217.2,481.7 1218.2,476.2 1219.2,470.6 1220.2,465.0 1221.2,459.4 1222.2,453.8 1223.2,448.1 1224.2,442.4 1225.2,436.7 1226.2,431.0 1227.2,425.3 1228.2,419.5 1229.2,413.7 1230.2,407.9 1231.2,402.0 1232.2,396.1 1233.2,390.2 1234.2,384.3 1235.2,378.3 1236.2,372.3 1237.2,366.3 1238.2,360.3 1239.2,354.3 1240.2,348.2 1241.2,342.2 1242.2,336.2 1243.2,330.1 1244.2,324.1 1245.2,318.1 1246.2,312.1 1247.2,306.2 1248.2,300.3 1249.2,294.4 1250.2,288.6 1251.2,282.9 1252.2,277.2 1253.2,271.6 1254.2,266.1 1255.2,260.7 1256.2,255.4 1257.2,250.2 1258.2,245.1 1259.2,240.1 1260.2,235.3 1261.2,230.7 1262.2,226.2 1263.2,221.8 1264.2,217.7 1265.2,213.7 1266.2,209.9 1267.2,206.3 1268.2,202.9 1269.2,199.7 1270.2,196.8 1271.2,194.0 1272.2,191.5 1273.2,189.2 1274.2,187.2 1275.2,185.4 1276.2,183.9 1277.2,182.6 1278.2,181.6 1279.2,180.8 1280.2,180.3 1281.2,180.0 1282.2,180.0 1283.2,180.3 1284.2,180.8 1285.2,181.6 1286.2,182.6 1287.2,183.9 1288.2,185.5 1289.2,187.3 1290.2,189.3 1291.2,191.6 1292.2,194.1 1293.2,196.9 1294.2,199.9 1295.2,203.1 1296.2,206.5 1297.2,210.1 1298.2,214.0 1299.2,218.0 1300.2,222.2 1301.2,226.6 1302.2,231.1 1303.2,235.9 1304.2,240.7 1305.2,245.7 1306.2,250.9 1307.2,256.2 1308.2,261.5 1309.2,267.0 1310.2,272.6 1311.2,278.3 1312.2,284.1 1313.2,289.9 1314.2,295.9 1315.2,301.8 1316.2,307.8 1317.2,313.9 1318.2,320.0 1319.2,326.1 1320.2,332.3 1321.2,338.4 1322.2,344.6 1323.2,350.8 1324.2,357.0 1325.2,363.1 1326.2,369.3 1327.2,375.4 1328.2,381.6 1329.2,387.7 1330.2,393.8 1331.2,399.8 1332.2,405.9 1333.2,411.9 1334.2,417.8 1335.2,423.8 1336.2,429.7 1337.2,435.6 1338.2,441.5 1339.2,447.3 1340.2,453.1 1341.2,458.9 1342.2,464.7 1343.2,470.5 1344.2,476.2 1345.2,481.9 1346.2,487.6 1347.2,493.3 1348.2,499.0 1349.2,504.7 1350.2,510.4 1351.2,516.1 1352.2,521.8 1353.2,527.5 1354.2,533.2 1355.2,538.9 1356.2,544.7 1357.2,550.4 1358.2,556.2 1359.2,562.0 1360.2,567.8 1361.2,573.7 1362.2,579.6 1363.2,585.5 1364.2,591.4 1365.2,597.4 1366.2,603.4 1367.2,609.4 1368.2,615.5 1369.2,621.6 1370.2,627.7 1371.2,633.8 1372.2,639.9 1373.2,646.1 1374.2,652.3 1375.2,658.4 1376.2,664.6 1377.2,670.8 1378.2,676.9 1379.2,683.1 1380.2,689.2 1381.2,695.3 1382.2,701.4 1383.2,707.4 1384.2,713.4 1385.2,719.3 1386.2,725.2 1387.2,731.0 1388.2,736.7 1389.2,742.3 1390.2,747.8 1391.2,753.2 1392.2,758.5 1393.2,763.7 1394.2,768.7 1395.2,773.6 1396.2,778.4 1397.2,783.0 1398.2,787.4 1399.2,791.7 1400.2,795.7 1401.2,799.6 1402.2,803.3 1403.2,806.8 1404.2,810.0 1405.2,813.1 1406.2,815.9 1407.2,818.5 1408.2,820.8 1409.2,822.9 1410.2,824.8 1411.2,826.4 1412.2,827.8 1413.2,828.9 1414.2,829.7 1415.2,830.3 1416.2,830.6 1417.2,830.7 1418.2,830.5 1419.2,830.1 1420.2,829.4 1421.2,828.4 1422.2,827.2 1423.2,825.7 1424.2,823.9 1425.2,822.0 1426.2,819.7 1427.2,817.3 1428.2,814.6 1429.2,811.7 1430.2,808.6 1431.2,805.2 1432.2,801.7 1433.2,797.9 1434.2,794.0 1435.2,789.9 1436.2,785.6 1437.2,781.1 1438.2,776.5 1439.2,771.7 1440.2,766.8 1441.2,761.7 1442.2,756.5 1443.2,751.3 1444.2,745.9 1445.2,740.4 1446.2,734.8 1447.2,729.1 1448.2,723.4 1449.2,717.6 1450.2,711.7 1451.2,705.8 1452.2,699.9 1453.2,693.9 1454.2,687.9 1455.2,681.9 1456.2,675.8 1457.2,669.8 1458.2,663.7 1459.2,657.7 1460.2,651.6 1461.2,645.6 1462.2,639.6 1463.2,633.6 1464.2,627.6 1465.2,621.6 1466.2,615.7 1467.2,609.8 1468.2,603.9 1469.2,598.1 1470.2,592.2 1471.2,586.4 1472.2,580.7 1473.2,574.9 1474.2,569.2 1475.2,563.5 1476.2,557.9 1477.2,552.2 1478.2,546.6 1479.2,541.0 1480.2,535.4 1481.2,529.8 1482.2,524.2 1483.2,518.7 1484.2,513.1 1485.2,507.5 1486.2,502.0 1487.2,496.4 1488.2,490.8 1489.2,485.2 1490.2,479.6 1491.2,474.0 1492.2,468.3 1493.2,462.6 1494.2,456.9 1495.2,451.2 1496.2,445.5 1497.2,439.7 1498.2,433.9 1499.2,428.1 1500.2,422.2 1501.2,416.3 1502.2,410.4 1503.2,404.5 1504.2,398.5 1505.2,392.5 1506.2,386.5 1507.2,380.5 1508.2,374.5 1509.2,368.4 1510.2,362.4 1511.2,356.3 1512.2,350.2 1513.2,344.2 1514.2,338.2 1515.2,332.2 1516.2,326.2 1517.2,320.3 1518.2,314.4 1519.2,308.5 1520.2,302.7 1521.2,297.0 1522.2,291.3 1523.2,285.8 1524.2,280.3 1525.2,274.9 1526.2,269.6 1527.2,264.5 1528.2,259.4 1529.2,254.5 1530.2,249.8 1531.2,245.2 1532.2,240.7 1533.2,236.5 1534.2,232.4 1535.2,228.5 1536.2,224.7 1537.2,221.2 1538.2,217.9 1539.2,214.8 1540.2,211.9 1541.2,209.3 1542.2,206.9 1543.2,204.7 1544.2,202.7 1545.2,201.0 1546.2,199.6 1547.2,198.4 1548.2,197.5 1549.2,196.8 1550.2,196.4 1551.2,196.2 1552.2,196.3 1553.2,196.7 1554.2,197.3 1555.2,198.2 1556.2,199.4 1557.2,200.8 1558.2,202.4 1559.2,204.3 1560.2,206.5 1561.2,208.8 1562.2,211.5 1563.2,214.3 1564.2,217.4 1565.2,220.7 1566.2,224.2 1567.2,227.9 1568.2,231.8 1569.2,235.9 1570.2,240.2 1571.2,244.6 1572.2,249.2 1573.2,254.0 1574.2,258.9 1575.2,264.0 1576.2,269.2 1577.2,274.5 1578.2,279.9 1579.2,285.4 1580.2,291.1 1581.2,296.8 1582.2,302.6 1583.2,308.4 1584.2,314.4 1585.2,320.3 1586.2,326.4 1587.2,332.4 1588.2,338.5 1589.2,344.6 1590.2,350.8 1591.2,356.9 1592.2,363.1 1593.2,369.3 1594.2,375.4 1595.2,381.6 1596.2,387.7 1597.2,393.8 1598.2,399.9 1599.2,406.0 1600.2,412.1 1601.2,418.1 1602.2,424.1 1603.2,430.1 1604.2,436.1 1605.2,442.0 1606.2,447.9 1607.2,453.8 1608.2,459.6 1609.2,465.4 1610.2,471.2 1611.2,477.0 1612.2,482.7 1613.2,488.5 1614.2,494.2 1615.2,499.9 1616.2,505.6 1617.2,511.3 1618.2,516.9 1619.2,522.6 1620.2,528.3 1621.2,534.0 1622.2,539.6 1623.2,545.3 1624.2,551.0 1625.2,556.8 1626.2,562.5 1627.2,568.3 1628.2,574.0 1629.2,579.9 1630.2,585.7 1631.2,591.5 1632.2,597.4 1633.2,603.3 1634.2,609.3 1635.2,615.3 1636.2,621.3 1637.2,627.3 1638.2,633.3 1639.2,639.4 1640.2,645.5 1641.2,651.6 1642.2,657.8 1643.2,663.9 1644.2,670.1 1645.2,676.2 1646.2,682.4 1647.2,688.5 1648.2,694.7 1649.2,700.8 1650.2,706.9 1651.2,713.0 1652.2,719.0 1653.2,725.0 1654.2,731.0 1655.2,736.8 1656.2,742.7 1657.2,748.4 1658.2,754.1 1659.2,759.6 1660.2,765.1 1661.2,770.4 1662.2,775.7 1663.2,780.8 1664.2,785.7 1665.2,790.6 1666.2,795.2 1667.2,799.7 1668.2,804.1 1669.2,808.2 1670.2,812.2 1671.2,816.0 1672.2,819.6 1673.2,822.9 1674.2,826.1 1675.2,829.0 1676.2,831.7 1677.2,834.2 1678.2,836.4 1679.2,838.4 1680.2,840.1 1681.2,841.6 1682.2,842.9 1683.2,843.8 1684.2,844.6 1685.2,845.0 1686.2,845.2 1687.2,845.2 1688.2,844.8 1689.2,844.2 1690.2,843.4 1691.2,842.3 1692.2,841.0 1693.2,839.3 1694.2,837.5 1695.2,835.4 1696.2,833.1 1697.2,830.5 1698.2,827.7 1699.2,824.7 1700.2,821.4 1701.2,818.0 1702.2,814.3 1703.2,810.5 1704.2,806.4 1705.2,802.2 1706.2,797.8 1707.2,793.3 1708.2,788.6 1709.2,783.7 1710.2,778.7 1711.2,773.6 1712.2,768.4 1713.2,763.0 1714.2,757.6 1715.2,752.0 1716.2,746.4 1717.2,740.7 1718.2,734.9 1719.2,729.1 1720.2,723.2 1721.2,717.2 1722.2,711.3 1723.2,705.3 1724.2,699.2 1725.2,693.2 1726.2,687.1 1727.2,681.1 1728.2,675.0 1729.2,668.9 1730.2,662.9 1731.2,656.9 1732.2,650.8 1733.2,644.8 1734.2,638.8 1735.2,632.9 1736.2,626.9 1737.2,621.0 1738.2,615.2 1739.2,609.3 1740.2,603.5 1741.2,597.7 1742.2,591.9 1743.2,586.2 1744.2,580.5 1745.2,574.8 1746.2,569.1 1747.2,563.5 1748.2,557.8 1749.2,552.2 1750.2,546.6 1751.2,541.0 1752.2,535.4 1753.2,529.9 1754.2,524.3 1755.2,518.7 1756.2,513.1 1757.2,507.5 1758.2,501.9 1759.2,496.3 1760.2,490.7 1761.2,485.0 1762.2,479.4 1763.2,473.7 1764.2,468.0 1765.2,462.2 1766.2,456.4 1767.2,450.6 1768.2,444.8 1769.2,439.0 1770.2,433.1 1771.2,427.2 1772.2,421.2 1773.2,415.3 1774.2,409.3 1775.2,403.3 1776.2,397.3 1777.2,391.2 1778.2,385.2 1779.2,379.1 1780.2,373.0 1781.2,367.0 1782.2,360.9 1783.2,354.9 1784.2,348.8 1785.2,342.8 1786.2,336.8 1787.2,330.9 1788.2,325.0 1789.2,319.2 1790.2,313.4 1791.2,307.7 1792.2,302.1 1793.2,296.5 1794.2,291.1 1795.2,285.7 1796.2,280.5 1797.2,275.4 1798.2,270.4 1799.2,265.6 1800.2,260.9 1801.2,256.3 1802.2,251.9 1803.2,247.7 1804.2,243.7 1805.2,239.9 1806.2,236.2 1807.2,232.8 1808.2,229.6 1809.2,226.6 1810.2,223.8 1811.2,221.2 1812.2,218.9 1813.2,216.8 1814.2,215.0 1815.2,213.4 1816.2,212.0 1817.2,210.9 1818.2,210.1 1819.2,209.5 1820.2,209.2 1821.2,209.2 1822.2,209.4 1823.2,209.9 1824.2,210.6 1825.2,211.6 1826.2,212.8 1827.2,214.3 1828.2,216.1 1829.2,218.1 1830.2,220.3 1831.2,222.8 1832.2,225.5 1833.2,228.5 1834.2,231.6 1835.2,235.0 1836.2,238.6 1837.2,242.4 1838.2,246.4 1839.2,250.5 1840.2,254.9 1841.2,259.4 1842.2,264.1 1843.2,268.9 1844.2,273.9 1845.2,279.0 1846.2,284.2 1847.2,289.6 1848.2,295.0 1849.2,300.6 1850.2,306.2 1851.2,312.0 1852.2,317.8 1853.2,323.7 1854.2,329.6 1855.2,335.6 1856.2,341.6 1857.2,347.7 1858.2,353.8 1859.2,359.9 1860.2,366.1 1861.2,372.2 1862.2,378.4 1863.2,384.5 1864.2,390.7 1865.2,396.8 1866.2,402.9 1867.2,409.0 1868.2,415.1 1869.2,421.2 1870.2,427.2 1871.2,433.2 1872.2,439.2 1873.2,445.2 1874.2,451.1 1875.2,457.0 1876.2,462.9 1877.2,468.7 1878.2,474.6 1879.2,480.4 1880.2,486.1 1881.2,491.9 1882.2,497.6 1883.2,503.3 1884.2,509.0 1885.2,514.7 1886.0,519.2" fill="none" stroke="#00ff00" stroke-width="10.2" stroke-linejoin="round" stroke-linecap="round" stroke-dasharray="9.6 16.6"/>
<line x1="320.6" y1="1063.9" x2="372.2" y2="1063.9" stroke="#7e2f8e" stroke-width="17.6" stroke-linecap="round"/><path d="M268.8,1063.9 L326.8,1035.1 L320.6,1063.9 L326.8,1092.8 Z" fill="#7e2f8e"/>
<line x1="863.3" y1="1063.9" x2="1038.4" y2="1063.9" stroke="#7e2f8e" stroke-width="17.6" stroke-linecap="round"/><path d="M811.5,1063.9 L869.5,1035.1 L863.3,1063.9 L869.5,1092.8 Z" fill="#7e2f8e"/>
<line x1="1840.1" y1="1063.9" x2="1664.8" y2="1063.9" stroke="#7e2f8e" stroke-width="17.6" stroke-linecap="round"/><path d="M1892.1,1063.9 L1833.9,1035.1 L1840.1,1063.9 L1833.9,1092.8 Z" fill="#7e2f8e"/>
<line id="blk" x1="809.05" y1="59.55" x2="809.05" y2="1108" stroke="#000" stroke-width="17.9" stroke-linecap="round" stroke-dasharray="16.4 33.5"/>
<line x1="760.5" y1="1063.9" x2="709.6" y2="1063.9" stroke="#7e2f8e" stroke-width="17.6" stroke-linecap="round"/><path d="M812.3,1063.9 L754.3,1035.1 L760.5,1063.9 L754.3,1092.8 Z" fill="#7e2f8e"/>
<text class="tk" transform="translate(252,63.7) scale(0.93,1)" text-anchor="end">800</text>
<text class="tk" transform="translate(252,199.2) scale(0.93,1)" text-anchor="end">600</text>
<text class="tk" transform="translate(252,334.7) scale(0.93,1)" text-anchor="end">400</text>
<text class="tk" transform="translate(252,470.2) scale(0.93,1)" text-anchor="end">200</text>
<text class="tk" transform="translate(252,605.7) scale(0.93,1)" text-anchor="end">0</text>
<text class="tk" transform="translate(252,741.2) scale(0.93,1)" text-anchor="end">-200</text>
<text class="tk" transform="translate(252,876.7) scale(0.93,1)" text-anchor="end">-400</text>
<text class="tk" transform="translate(252,1012.2) scale(0.93,1)" text-anchor="end">-600</text>
<text class="tk" transform="translate(252,1147.7) scale(0.93,1)" text-anchor="end">-800</text>
<text class="tk" transform="translate(288.9,1223) scale(0.93,1)" text-anchor="middle">2.4</text>
<text class="tk" transform="translate(563.6,1223) scale(0.93,1)" text-anchor="middle">2.45</text>
<text class="tk" transform="translate(826.5,1223) scale(0.93,1)" text-anchor="middle">2.5</text>
<text class="tk" transform="translate(1102.2,1223) scale(0.93,1)" text-anchor="middle">2.55</text>
<text class="tk" transform="translate(1370.5,1223) scale(0.93,1)" text-anchor="middle">2.6</text>
<text class="tk" transform="translate(1645.9,1223) scale(0.93,1)" text-anchor="middle">2.65</text>
<text class="tk" transform="translate(1908.2,1223) scale(0.93,1)" text-anchor="middle">2.7</text>
<text class="lb" transform="translate(1080.8,1307)" letter-spacing="0.95" text-anchor="middle">Time(s)</text>
<text class="lb" transform="translate(71,587.7) rotate(-90) scale(1.02,1)" text-anchor="middle">Current in the faulty coil(A)</text>
<text x="326" y="828" font-size="58.3" fill="#000" textLength="356" lengthAdjust="spacingAndGlyphs">Short Circuit</text>
<line x1="776.1" y1="808.5" x2="698.5" y2="808.5" stroke="#000" stroke-width="9" stroke-linecap="round"/><path d="M814.7,808.5 L772.1,787.5 L776.1,808.5 L772.1,829.5 Z" fill="#000"/>
<line x1="766" y1="890" x2="874.9" y2="890" stroke="#ff0000" stroke-width="10.7" stroke-linecap="round"/>
<line x1="765.9" y1="988" x2="875" y2="988" stroke="#00ff00" stroke-width="10.4" stroke-linecap="round" stroke-dasharray="8.6 17.7"/>
<text class="math" transform="translate(892.2,918.8) scale(1.12,1)" font-size="84" fill="#ff0000">i</text><text class="math" x="920.9" y="937.1" font-size="56" fill="#ff0000" stroke="#ff0000">A</text><text class="math" style="font-style:normal" transform="translate(957.6,937.1) scale(1.16,1)" font-size="56" fill="#ff0000" stroke="#ff0000">1</text><text class="math" transform="translate(990.9,937.1) skewX(-12)" font-size="56" fill="#ff0000" stroke="#ff0000">f</text>
<text class="math" transform="translate(892.2,1005.7) scale(1.12,1)" font-size="84" fill="#00ff00">i</text><text class="math" x="920.9" y="1024.0" font-size="56" fill="#00ff00" stroke="#00ff00">A</text><text class="math" style="font-style:normal" transform="translate(957.6,1024.0) scale(1.16,1)" font-size="56" fill="#00ff00" stroke="#00ff00">1</text><text class="math" transform="translate(990.9,1024.0) skewX(-12)" font-size="56" fill="#00ff00" stroke="#00ff00">f</text>
<text x="1042" y="922.6" font-size="58.2" fill="#000" textLength="818.5" lengthAdjust="spacingAndGlyphs">Analytical inductances based</text>
<text x="1049.6" y="1007.7" font-size="58.2" fill="#000" textLength="618" lengthAdjust="spacingAndGlyphs">FE inductances based</text>
<text x="397.5" y="1091" font-size="83.3" fill="#ff00ff">Healthy</text>
<text x="1176.6" y="1091" font-size="83.3" letter-spacing="0.25" fill="#ff00ff">Postfault</text>
</svg>
</body></html>
